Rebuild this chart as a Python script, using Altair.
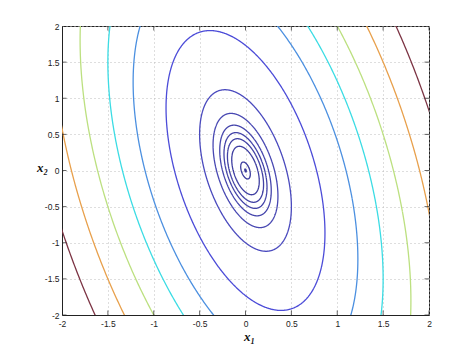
import numpy as np
import pandas as pd
import altair as alt

alt.data_transformers.disable_max_rows()

# Contour levels of the quadratic form f(x) = a*x1^2 + 2*b*x1*x2 + c*x2^2
levels = [0.00005, 0.0022, 0.018, 0.031, 0.044, 0.063, 0.1, 0.2, 0.6, 1.2, 1.8, 2.6, 3.6, 4.8]
level_colors = ["#3c3c9c", "#3e3e9e", "#4040a2", "#4242a4", "#4444a8", "#4646ac", "#4848b2",
                "#4a4abe", "#4c4cd8", "#4c90e0", "#3cdce4", "#bce080", "#e8a04c", "#7c3444"]
quad = [1.0, 0.2, 0.2]  # a, b, c
tick_values = [-2, -1.5, -1, -0.5, 0, 0.5, 1, 1.5, 2]
limits = [-2, 2]

# build contour polylines (ellipses x^T A x = L), split where they leave the box
a, b, c = quad
A = np.array([[a, b], [b, c]])
w, V = np.linalg.eigh(A)
M = V @ np.diag(1 / np.sqrt(w)) @ V.T
t = np.linspace(0, 2 * np.pi, 901)
u = np.vstack([np.cos(t), np.sin(t)])
rows = []
seg = 0
lim = max(abs(limits[0]), abs(limits[1])) * 1.08
for L in levels:
    pts = np.sqrt(L) * (M @ u)
    inside = (np.abs(pts[0]) <= lim) & (np.abs(pts[1]) <= lim)
    prev = False
    for k in range(len(t)):
        if inside[k]:
            if not prev:
                seg += 1
            rows.append({"x1": round(float(pts[0, k]), 4), "x2": round(float(pts[1, k]), 4),
                         "level": str(L), "seg": seg, "k": k})
        prev = bool(inside[k])
df = pd.DataFrame(rows)

lv_str = [str(L) for L in levels]

xs = alt.Scale(domain=limits, nice=False, zero=False)
ys = alt.Scale(domain=limits, nice=False, zero=False)
lbl = "replace(format(datum.value, '~g'), '\u2212', '-')"
xaxis = alt.Axis(values=tick_values, title="x\u2081", ticks=False, labelExpr=lbl,
                 labelFlush=False, labelOverlap=False,
                 labelPadding=4, titleX=187, titleY=25, titleAlign="center",
                 titleBaseline="alphabetic")
yaxis = alt.Axis(values=tick_values, title="x\u2082", ticks=False, labelExpr=lbl,
                 labelFlush=False, labelOverlap=False,
                 labelPadding=3, titleAngle=0, titleX=-20, titleY=145, titleAlign="center",
                 titleBaseline="alphabetic")

contours = alt.Chart(df).mark_line(clip=True, strokeWidth=1.3).encode(
    x=alt.X("x1:Q", scale=xs, axis=xaxis),
    y=alt.Y("x2:Q", scale=ys, axis=yaxis),
    color=alt.Color("level:N", scale=alt.Scale(domain=lv_str, range=level_colors), legend=None),
    detail="seg:N",
    order="k:Q",
)

# inward tick marks on all four sides
vt = pd.DataFrame({"x1": tick_values * 2,
                   "x2": [limits[0]] * len(tick_values) + [limits[1]] * len(tick_values)})
ht = pd.DataFrame({"x2": tick_values * 2,
                   "x1": [limits[0]] * len(tick_values) + [limits[1]] * len(tick_values)})
vticks = alt.Chart(vt).mark_tick(orient="vertical", size=9, thickness=1, clip=True,
                                 color="#222222").encode(
    x=alt.X("x1:Q", scale=xs, axis=xaxis), y=alt.Y("x2:Q", scale=ys, axis=yaxis))
hticks = alt.Chart(ht).mark_tick(orient="horizontal", size=9, thickness=1, clip=True,
                                 color="#222222").encode(
    x=alt.X("x1:Q", scale=xs, axis=xaxis), y=alt.Y("x2:Q", scale=ys, axis=yaxis))

chart = alt.layer(contours, vticks, hticks).properties(
    width=367, height=289,
    padding={"left": 62, "top": 26, "right": 45, "bottom": 40},
    autosize=alt.AutoSizeParams(type="none"),
    background="white",
).configure_view(
    stroke="#222222", strokeWidth=1
).configure_axis(
    domainColor="#222222", domainWidth=1,
    grid=True, gridColor="#bcbcbc", gridDash=[1, 3], gridWidth=1, gridOpacity=1,
    labelFont="Liberation Sans", labelFontSize=8.5, labelColor="#222222",
    titleFont="Liberation Serif", titleFontSize=13, titleFontStyle="italic",
    titleFontWeight="bold", titleColor="#111111",
)

chart.save("out.html", embed_options={"renderer": "svg", "actions": False})
